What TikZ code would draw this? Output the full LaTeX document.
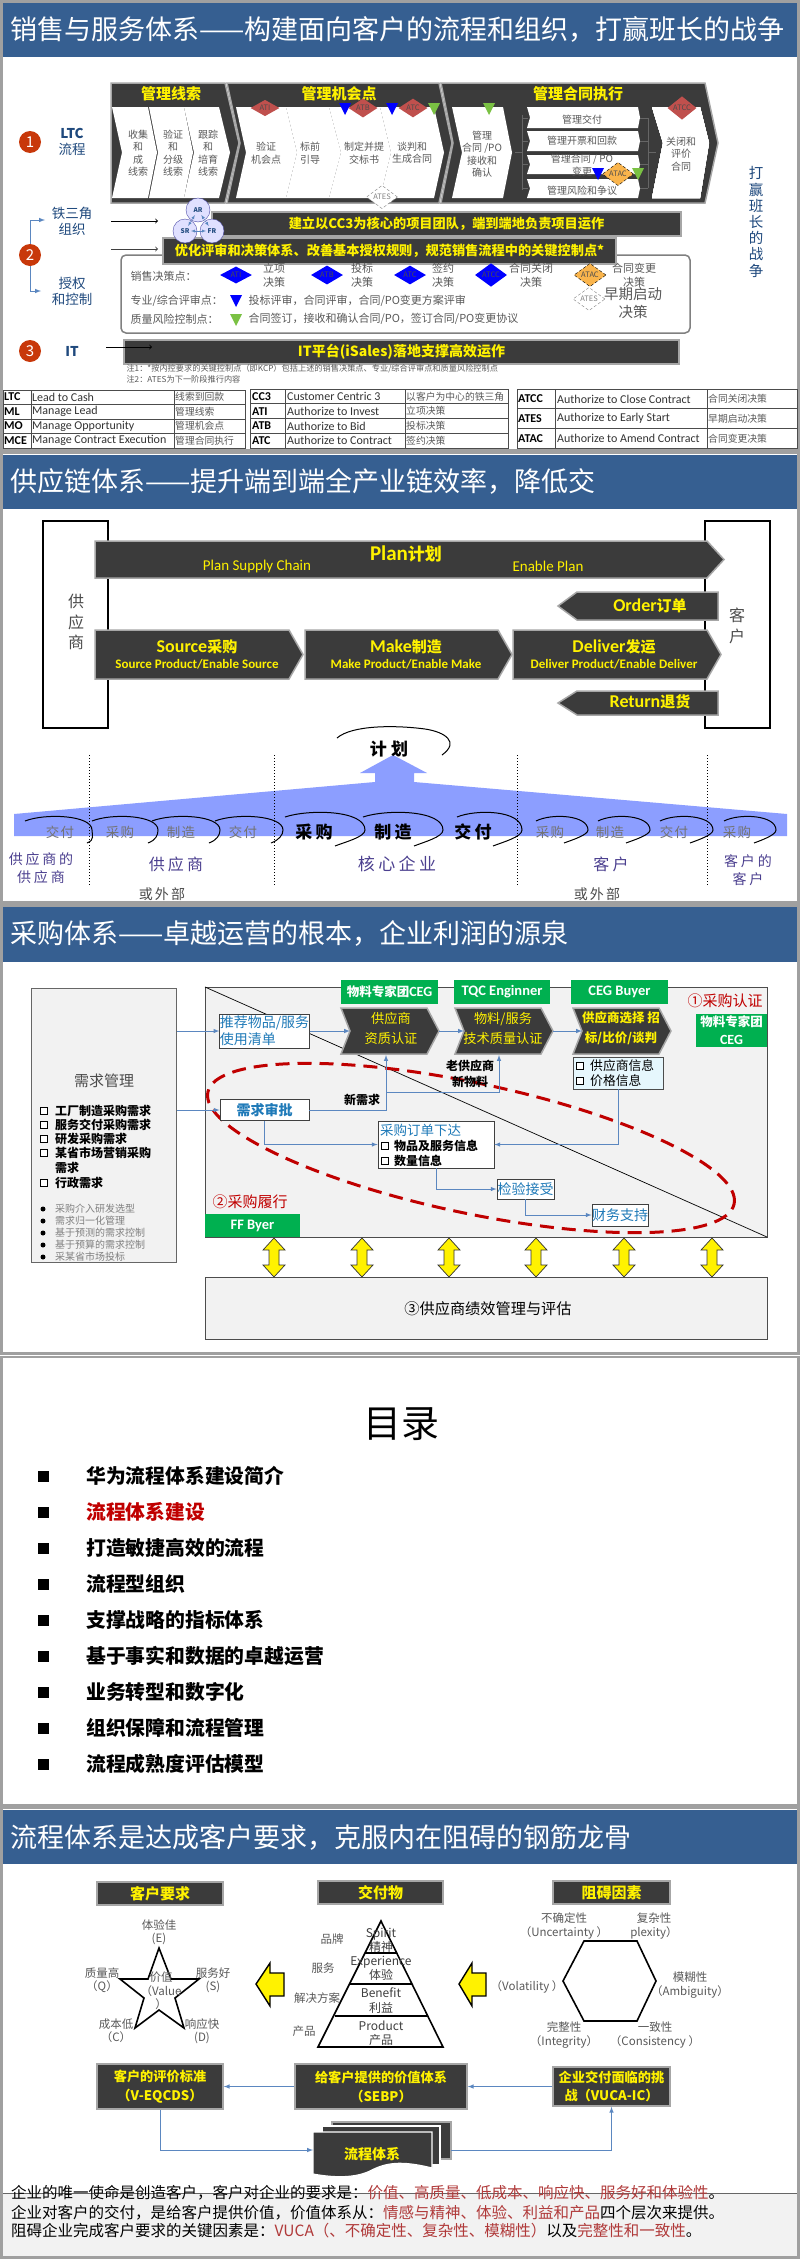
\documentclass[tikz,border=0pt]{standalone}
\usepackage{fontspec}
\setmainfont{Noto Sans CJK SC}
\newfontfamily\latf{Carlito}
\usetikzlibrary{shapes.geometric}

\definecolor{titleblue}{HTML}{365F91}
\definecolor{framegray}{HTML}{A0A0A0}
\definecolor{darkfill}{HTML}{3B3B3B}
\definecolor{boxrim}{HTML}{A6A6A6}
\definecolor{wordgray}{HTML}{595959}
\definecolor{navyword}{HTML}{1F497D}
\definecolor{linkblue}{HTML}{5B87C0}
\definecolor{flowblue}{HTML}{8C9EFF}
\definecolor{paleface}{HTML}{F2F2F2}
\definecolor{deepred}{HTML}{C00000}
\definecolor{ringred}{HTML}{C8380A}
\definecolor{palmgreen}{HTML}{00B050}
\definecolor{flagorange}{HTML}{F9B44C}
\definecolor{okgreen}{HTML}{7AC143}
\definecolor{purpleword}{HTML}{4B3F8F}
\definecolor{textblue}{HTML}{1F7AB8}
\definecolor{tipred}{HTML}{C0504D}
\definecolor{billred}{HTML}{B03A3A}

\newcommand{\fsz}[2]{\fontsize{#1}{#2}\selectfont}
\newcommand{\chevpoly}[7][]{\draw[#1] (#2,#6) -- (#4,#6) -- (#5,{(#6+#7)/2}) -- (#4,#7) -- (#2,#7) -- (#3,{(#6+#7)/2}) -- cycle;}
\newcommand{\marktri}[3]{\fill[#1] ({#2-6},#3) -- ({#2+6},#3) -- (#2,{#3+12}) -- cycle;}

\tikzset{
	slideframe/.style={draw=framegray, line width=2.5pt},
	titletext/.style={anchor=west, text=white, font=\fsz{27}{30}},
	darkshape/.style={fill=darkfill, draw=boxrim, line width=1.5pt},
	whiteshape/.style={fill=white, draw=none},
	darkbox/.style={darkshape, text=yellow, font=\bfseries\fsz{13.2}{16}, inner sep=0pt},
	yellowtext/.style={text=yellow, font=\bfseries\fsz{15}{18}, align=center},
	steptext/.style={text=wordgray, font=\fsz{10}{12.4}, align=center},
	numring/.style={circle, fill=ringred, text=white, font=\fsz{15}{15}, inner sep=0pt, minimum size=22pt},
	leftlabel/.style={text=navyword, font=\fsz{13.5}{16}, align=center},
	gateflag/.style={diamond, inner sep=0pt, minimum width=29pt, minimum height=15pt, font=\fsz{7.5}{8}},
	redflag/.style={gateflag, fill=tipred, text=black!70},
	blueflag/.style={gateflag, fill=blue, text=black!70, minimum width=32pt, minimum height=17pt},
	orangeflag/.style={gateflag, fill=flagorange, draw=black, densely dashed, line width=.4pt, text=black!70},
	greyflag/.style={gateflag, fill=white, draw=gray, densely dashed, line width=.4pt, text=gray},
	legendtext/.style={text=wordgray, font=\fsz{11}{14}, align=center},
	noteword/.style={anchor=west, text=wordgray, font=\fsz{8.2}{10}},
	rowhead/.style={anchor=west, inner sep=0pt, font=\latf\bfseries\fsz{12}{13}},
	rowword/.style={anchor=west, inner sep=0pt, text=black!80, font=\latf\fsz{12}{13}},
	rowcn/.style={anchor=west, inner sep=0pt, text=wordgray, font=\fsz{9.8}{12}},
	boldword/.style={text=yellow, font=\bfseries\fsz{15}{18}},
	subword/.style={text=yellow, font=\latf\bfseries\fsz{13}{14}},
	planword/.style={text=yellow, font=\latf\fsz{15}{16}},
	arcline/.style={line width=1pt, black},
	grayflow/.style={text=black!55, font=\fsz{13.5}{16}\addfontfeature{LetterSpace=10}},
	bigflow/.style={text=black, font=\bfseries\fsz{17}{18}\addfontfeature{LetterSpace=20}},
	purpleflow/.style={text=purpleword, align=center, font=\fsz{#1}{18}\addfontfeature{LetterSpace=20}},
	palmbox/.style={fill=palmgreen, text=white, font=\bfseries\fsz{12.5}{18}, align=center, inner sep=0pt},
	paperbox/.style={fill=white, draw=black!75, line width=.8pt, inner sep=0pt, text=textblue, font=\fsz{14}{17}},
	chkbox/.style={draw=black, fill=white, line width=1.1pt, inner sep=0pt, minimum size=7pt},
	chkword/.style={anchor=west, inner sep=0pt, font=\bfseries\fsz{12}{14}},
	linkline/.style={->, >=latex, draw=linkblue, line width=1pt},
	shapeline/.style={draw=black, line width=1.6pt},
	smallword/.style={text=wordgray, font=\fsz{11.5}{13.4}, align=center},
	arrowyellow/.style={fill=yellow, draw=black, line width=1.4pt},
	tocmark/.style={fill=black, inner sep=0pt, minimum size=11pt},
}

\begin{document}
\begin{tikzpicture}[x=1pt, y=-1pt]
	\useasboundingbox (0,0) rectangle (800,2259);
	\fill[white] (0,0) rectangle (800,2259);

	% slide frames
	\draw[slideframe] (1.5,1.5) rectangle (798.5,450.5);
	\draw[slideframe] (1.5,452.5) rectangle (798.5,902.5);
	\draw[slideframe] (1.5,905.5) rectangle (798.5,1353.5);
	\draw[slideframe] (1.5,1357) rectangle (798.5,1805);
	\draw[slideframe] (1.5,1807.5) rectangle (798.5,2257.5);
	\foreach \top/\bot in {3/57, 455/509, 907/962, 1810/1864}
		\fill[titleblue] (3,\top) rectangle (797,\bot);
	\node[titletext] (titlea) at (7,29) {销售与服务体系——构建面向客户的流程和组织，打赢班长的战争};
	\node[titletext] (titleb) at (7,481) {供应链体系——提升端到端全产业链效率，降低交};
	\node[titletext] (titlec) at (7,933) {采购体系——卓越运营的根本，企业利润的源泉};
	\node[titletext] (titled) at (7,1837) {流程体系是达成客户要求，克服内在阻碍的钢筋龙骨};

	% sales: chevron band
	\draw[darkshape] (111,83) -- (225,83) -- (239,143) -- (225,203) -- (111,203) -- cycle;
	\chevpoly[darkshape]{227}{240}{439}{452}{83}{203}
	\chevpoly[darkshape]{441}{453}{705}{718}{83}{203}
	\node[yellowtext] (leadhead) at (171,94) {管理线索};
	\node[yellowtext] (opphead) at (339,94) {管理机会点};
	\node[yellowtext] (conthead) at (578,94) {管理合同执行};
	\foreach \l/\n/\r/\t in {112/122/148/157, 149/158/184/193, 184/194/219/230, 236/246/286/297, 286/297/329/341, 329/341/380/391, 380/391/434/444, 452/462/503/512}
		\chevpoly[whiteshape]{\l}{\n}{\r}{\t}{107}{198}
	\fill[white] (652,107) -- (700,107) -- (709,143) -- (700,198) -- (652,198) -- (663,143) -- cycle;
	\draw[black!60, line width=1pt] (515,152) -- (522,152) (522,115) -- (522,190) (522,118) -- (528,118) (522,141) -- (528,141) (522,164) -- (528,164) (522,188) -- (528,188);
	\draw[black!60, line width=1pt] (638,118) -- (648,118) (638,141) -- (648,141) (638,164) -- (648,164) (638,188) -- (648,188) (648,118) -- (648,188) (648,152) -- (656,152);
	\foreach \top/\bot in {107/128, 131/151, 155/174, 179/198}
		\fill[white] (527,\top) -- (638,\top) -- (640,{(\top+\bot)/2}) -- (638,\bot) -- (527,\bot) -- (530,{(\top+\bot)/2}) -- cycle;
	\node[steptext] (stepa) at (138,153) {收集\\和\\成\\线索};
	\node[steptext] (stepb) at (173,153) {验证\\和\\分级\\线索};
	\node[steptext] (stepc) at (208,153) {跟踪\\和\\培育\\线索};
	\node[steptext] (stepd) at (266,153) {验证\\机会点};
	\node[steptext] (stepe) at (310,153) {标前\\引导};
	\node[steptext] (stepf) at (364,153) {制定并提\\交标书};
	\node[steptext] (stepg) at (412,153) {谈判和\\生成合同};
	\node[steptext] (steph) at (482,154) {管理\\合同 /PO\\接收和\\确认};
	\node[steptext] (rowa) at (582,120) {管理交付};
	\node[steptext] (rowb) at (582,141) {管理开票和回款};
	\node[steptext] (rowc) at (582,165) {管理合同 / PO\\变更};
	\node[steptext] (rowd) at (582,191) {管理风险和争议};
	\node[steptext] (stepi) at (681,154) {关闭和\\评价\\合同};
	\node[redflag] (flagati) at (265,108) {ATI};
	\node[redflag] (flagatb) at (363,108) {ATB};
	\node[redflag] (flagatc) at (413,108) {ATC};
	\node[redflag] (flagatcc) at (682,108) {ATCC};
	\node[greyflag, minimum width=31pt] (flagates) at (382,197) {ATES};
	\node[orangeflag, minimum width=31pt, minimum height=17pt] (flagatac) at (618,174) {ATAC};
	\marktri{blue}{345}{103}
	\marktri{blue}{392}{103}
	\marktri{okgreen}{434}{103}
	\marktri{okgreen}{489}{103}
	\marktri{blue}{598}{168}
	\marktri{okgreen}{638}{168}

	% sales: left column
	\node[numring] (numa) at (30,142) {1};
	\node[numring] (numb) at (30,255) {2};
	\node[numring] (numc) at (30,351) {3};
	\node[leftlabel] (labelltc) at (72,142) {\textbf{LTC}\\流程};
	\node[leftlabel] (labeltri) at (72,221) {铁三角\\组织};
	\node[leftlabel] (labelauth) at (72,291) {授权\\和控制};
	\node[leftlabel] (labelit) at (72,351) {\textbf{IT}};
	\coordinate (triin) at (45,220);
	\coordinate (authin) at (41,291);
	\draw[linkline] (numb.north) |- (triin);
	\draw[linkline] (numb.south) |- (authin);

	% sales: bars and legend
	\node[darkbox, minimum width=469pt, minimum height=24pt] (barcc) at (446.5,224) {建立以CC3为核心的项目团队，端到端地负责项目运作};
	\draw[draw=black!50, fill=white, line width=1.5pt, rounded corners=5pt] (121,255) rectangle (690,333);
	\node[darkbox, minimum width=453pt, minimum height=26pt] (barkcp) at (389.5,251) {优化评审和决策体系、改善基本授权规则，规范销售流程中的关键控制点*};
	\node[circle, fill=blue!12, draw=blue!50!black!70, inner sep=0pt, minimum size=24pt, text=navyword, font=\bfseries\fsz{6.5}{7}] (ringar) at (198,210) {AR};
	\node[circle, fill=blue!12, draw=blue!50!black!70, inner sep=0pt, minimum size=24pt, text=navyword, font=\bfseries\fsz{6.5}{7}] (ringsr) at (185,231) {SR};
	\node[circle, fill=blue!12, draw=blue!50!black!70, inner sep=0pt, minimum size=24pt, text=navyword, font=\bfseries\fsz{6.5}{7}] (ringfr) at (212,231) {FR};
	\draw[<->, >=latex, draw=linkblue, shorten <=6pt, shorten >=6pt] (ringsr.center) -- (ringfr.center);
	\draw[<->, >=latex, draw=linkblue, shorten <=6pt, shorten >=6pt] (ringar.center) -- (ringsr.center);
	\draw[<->, >=latex, draw=linkblue, shorten <=6pt, shorten >=6pt] (ringar.center) -- (ringfr.center);
	\node[darkbox, minimum width=555pt, minimum height=24pt, font=\bfseries\fsz{14}{16}] (barit) at (401.5,352) {IT平台(iSales)落地支撑高效运作};
	\coordinate (triarrow) at (111,221);
	\coordinate (kcparrow) at (111,249);
	\coordinate (itarrow) at (106,347);
	\draw[->, >=to, line width=.9pt] (triarrow) -- +(47,0);
	\draw[->, >=to, line width=.9pt, black!75] (kcparrow) -- +(47,0);
	\draw[->, >=to, line width=.9pt] (itarrow) -- +(46,0);
	\node[legendtext, anchor=west] (sellhead) at (127,276) {销售决策点：};
	\node[blueflag] (gateati) at (236,275) {ATI};
	\node[blueflag] (gateatb) at (327,275) {ATB};
	\node[blueflag] (gateatc) at (410,275) {ATC};
	\node[blueflag] (gateatcc) at (491,275) {ATCC};
	\node[orangeflag, minimum width=32pt, minimum height=18pt] (gateatac) at (590,275) {ATAC};
	\node[greyflag, minimum width=32pt, minimum height=17pt] (gateates) at (589,299) {ATES};
	\node[legendtext] (wordati) at (274,275) {立项\\决策};
	\node[legendtext] (wordatb) at (362,275) {投标\\决策};
	\node[legendtext] (wordatc) at (443,275) {签约\\决策};
	\node[legendtext] (wordatcc) at (531,275) {合同关闭\\决策};
	\node[legendtext] (wordatac) at (634,275) {合同变更\\决策};
	\node[legendtext, font=\fsz{14.5}{18}] (wordates) at (633,303) {早期启动\\决策};
	\node[legendtext, anchor=west] (prohead) at (127,301) {专业/综合评审点：};
	\marktri{blue}{236}{295}
	\node[legendtext, anchor=west] (proword) at (245,301) {投标评审，合同评审，合同/PO变更方案评审};
	\node[legendtext, anchor=west] (qualhead) at (127,319) {质量风险控制点：};
	\marktri{okgreen}{236}{314}
	\node[legendtext, anchor=west] (qualword) at (245,319) {合同签订，接收和确认合同/PO，签订合同/PO变更协议};
	\node[noteword] (notea) at (123,369) {注1：*按内控要求的关键控制点（即KCP）包括上述的销售决策点、专业/综合评审点和质量风险控制点};
	\node[noteword] (noteb) at (123,379) {注2：ATES为下一阶段推行内容};
	\node[text=navyword, align=center, font=\fsz{14.5}{16.2}] (winword) at (756,222) {打\\赢\\班\\长\\的\\战\\争};

	% sales: glossary tables
	\draw[black!70, line width=.7pt] (3,390) rectangle (245,448) (31,390) -- (31,448) (174,390) -- (174,448) (3,404.5) -- (245,404.5) (3,419) -- (245,419) (3,433.5) -- (245,433.5);
	\draw[black!70, line width=.7pt] (250,389) rectangle (508,448) (285,389) -- (285,448) (405,389) -- (405,448) (250,403.7) -- (508,403.7) (250,418.5) -- (508,418.5) (250,433.2) -- (508,433.2);
	\draw[black!70, line width=.7pt] (517,389) rectangle (797,448) (555,389) -- (555,448) (707,389) -- (707,448) (517,408.7) -- (797,408.7) (517,428.3) -- (797,428.3);
	\foreach \i/\ab/\en/\cn in {0/LTC/Lead to Cash/线索到回款, 1/ML/Manage Lead/管理线索, 2/MO/Manage Opportunity/管理机会点, 3/MCE/Manage Contract Execution/管理合同执行} {
		\node[rowhead] (taba\i) at (4,{397+14.5*\i}) {\ab};
		\node[rowword] (tabb\i) at (32,{397+14.5*\i}) {\en};
		\node[rowcn] (tabc\i) at (175,{397+14.5*\i}) {\cn};
	}
	\foreach \i/\ab/\en/\cn in {0/CC3/Customer Centric 3/以客户为中心的铁三角, 1/ATI/Authorize to Invest/立项决策, 2/ATB/Authorize to Bid/投标决策, 3/ATC/Authorize to Contract/签约决策} {
		\node[rowhead] (tabd\i) at (252,{396.4+14.75*\i}) {\ab};
		\node[rowword] (tabe\i) at (287,{396.4+14.75*\i}) {\en};
		\node[rowcn] (tabf\i) at (406,{396.4+14.75*\i}) {\cn};
	}
	\foreach \i/\ab/\en/\cn in {0/ATCC/Authorize to Close Contract/合同关闭决策, 1/ATES/Authorize to Early Start/早期启动决策, 2/ATAC/Authorize to Amend Contract/合同变更决策} {
		\node[rowhead] (tabg\i) at (518,{399+19.7*\i}) {\ab};
		\node[rowword] (tabh\i) at (557,{399+19.7*\i}) {\en};
		\node[rowcn] (tabi\i) at (708,{399+19.7*\i}) {\cn};
	}

	% supply chain
	\draw[black, line width=1.5pt] (43,521) rectangle (108,728);
	\draw[black, line width=1.5pt] (705,521) rectangle (770,728);
	\node[text=black!70, align=center, font=\fsz{16}{20.5}] (sidesup) at (76,622) {供\\应\\商};
	\node[text=black!70, align=center, font=\fsz{16}{20.5}] (sidecust) at (737,626) {客\\户};
	\draw[darkshape] (95,541) -- (707,541) -- (724,559.5) -- (707,578) -- (95,578) -- cycle;
	\node[boldword, font=\bfseries\fsz{17}{20}] (planhead) at (406,554) {{\latf\fontsize{21}{20}\selectfont Plan}计划};
	\node[planword] (plansub) at (257,566) {Plan Supply Chain};
	\node[planword] (enablesub) at (548,566) {Enable Plan};
	\draw[darkshape] (718,592) -- (577,592) -- (558,606) -- (577,620) -- (718,620) -- cycle;
	\node[boldword] (orderword) at (650,606) {{\latf\fontsize{18}{18}\selectfont Order}订单};
	\draw[darkshape] (718,691) -- (577,691) -- (558,703) -- (577,715) -- (718,715) -- cycle;
	\node[boldword] (returnword) at (650,702) {{\latf\fontsize{18}{18}\selectfont Return}退货};
	\draw[darkshape] (95,630) -- (289,630) -- (303,654.5) -- (289,679) -- (95,679) -- cycle;
	\draw[darkshape] (305,630) -- (498,630) -- (512,654.5) -- (498,679) -- (305,679) -- cycle;
	\draw[darkshape] (513,630) -- (707,630) -- (721,654.5) -- (707,679) -- (513,679) -- cycle;
	\foreach \x/\nm/\main/\cn in {197/src/Source/采购, 406/mak/Make/制造, 614/del/Deliver/发运} {
		\node[boldword] (head\nm) at (\x,647) {{\latf\fontsize{18}{18}\selectfont \main}\cn};
	}
	\node[subword] (subsrc) at (197,664) {Source Product/Enable Source};
	\node[subword] (submak) at (406,664) {Make Product/Enable Make};
	\node[subword] (subdel) at (614,664) {Deliver Product/Enable Deliver};

	% supply chain: plan fan
	\fill[flowblue] (14,836) -- (14,814) -- (375,782) -- (375,773) -- (360,773) -- (393,755) -- (427,773) -- (414,773) -- (414,782) -- (787,814) -- (787,836) -- cycle;
	\foreach \x in {89,274,517,707}
		\draw[black, dotted, line width=1pt] (\x,755) -- (\x,885);
	\draw[arcline] (337,738) .. controls (352,725) and (395,725) .. (425,729) .. controls (445,732) and (460,742) .. (442,755);
	\node[text=black, font=\bfseries\fsz{17}{18}\addfontfeature{LetterSpace=25}] (planhub) at (389,749) {计划};
	\foreach \i/\lab/\tx/\xs/\xr/\xe in {0/交付/60/25/92/87, 1/采购/120/92/158/148, 2/制造/181/152/220/209, 3/交付/243/215/283/271, 4/采购/550/536/588/564, 5/制造/610/598/650/626, 6/交付/674/660/713/690, 7/采购/737/724/776/754} {
		\draw[arcline] (\xs,821) .. controls ({\xs+0.3*(\xr-\xs)},813) and (\xr,815) .. (\xr,830) .. controls (\xr,835) and ({\xe+8},840) .. (\xe,843);
		\node[grayflow] (smallflow\i) at (\tx,832) {\lab};
	}
	\foreach \i/\lab/\tx/\xs/\xr/\xe in {0/采购/314/285/365/335, 1/制造/393/363/443/414, 2/交付/473/457/522/493} {
		\draw[arcline] (\xs,817) .. controls ({\xs+0.3*(\xr-\xs)},809) and (\xr,810) .. (\xr,830) .. controls (\xr,837) and ({\xe+10},842) .. (\xe,846);
		\node[bigflow] (bigflow\i) at (\tx,832) {\lab};
	}
	\node[purpleflow=14] (partya) at (41,868) {供应商的\\供应商};
	\node[purpleflow=16] (partyb) at (176,864) {供应商};
	\node[purpleflow=17] (partyc) at (397,864) {核心企业};
	\node[purpleflow=16] (partyd) at (611,864) {客户};
	\node[purpleflow=14] (partye) at (748,870) {客户的\\客户};
	\node[text=black!70, font=\fsz{14}{16}\addfontfeature{LetterSpace=15}] (outera) at (162,894) {或外部};
	\node[text=black!70, font=\fsz{14}{16}\addfontfeature{LetterSpace=15}] (outerb) at (597,894) {或外部};

	% purchasing
	\node[fill=paleface, draw=black!60, line width=1pt, minimum width=145pt, minimum height=274pt, inner sep=0pt] (needbox) at (103.5,1125) {};
	\node[text=black!70, font=\fsz{15}{18}] (needhead) at (104,1081) {需求管理};
	\foreach \i/\y/\t in {0/1111/工厂制造采购需求, 1/1125/服务交付采购需求, 2/1139/研发采购需求, 3/1153/某省市场营销采购, 5/1183/行政需求} {
		\node[chkbox] (needchk\i) at (44,\y) {};
		\node[chkword] (needline\i) at (55,\y) {\t};
	}
	\node[chkword] (needline4) at (55,1168) {需求};
	\foreach \i/\y/\t in {0/1209/采购介入研发选型, 1/1221/需求归一化管理, 2/1233/基于预测的需求控制, 3/1245/基于预算的需求控制, 4/1257/采某省市场投标} {
		\fill[black] (43,\y) circle (2.5pt);
		\node[anchor=west, inner sep=0pt, text=gray, font=\fsz{10}{12}] (needsub\i) at (55,\y) {\t};
	}
	\draw[fill=paleface, draw=black!70, line width=1pt] (205,987) rectangle (767,1237);
	\draw[black, line width=.7pt] (205,987) -- (767,1237);
	\draw[deepred, line width=3pt, dash pattern=on 14pt off 8pt] (471,1148) ellipse [x radius=269pt, y radius=65pt, rotate=-12];
	\node[palmbox] at (389.5,992) [minimum width=97pt, minimum height=24pt] (greena) {物料专家团{\latf\fontsize{14}{14}\selectfont CEG}};
	\node[palmbox, minimum width=96pt, minimum height=24pt, font=\latf\bfseries\fsz{14.5}{18}] (greenb) at (502,992) {TQC Enginner};
	\node[palmbox, minimum width=97pt, minimum height=24pt, font=\latf\bfseries\fsz{14.5}{18}] (greenc) at (619.5,992) {CEG Buyer};
	\node[palmbox, minimum width=71pt, minimum height=33pt] (greend) at (731.5,1030.5) {物料专家团\\{\latf\fontsize{14}{14}\selectfont CEG}};
	\node[palmbox, minimum width=95pt, minimum height=23pt, font=\latf\bfseries\fsz{14.5}{18}] (greene) at (252.5,1225.5) {FF Byer};
	\node[text=deepred, font=\fsz{15}{18}] (stepone) at (725,1001) {①采购认证};
	\node[text=deepred, font=\fsz{15}{18}] (steptwo) at (250,1202) {②采购履行};
	\chevpoly[darkshape]{341}{350}{427}{439}{1008}{1054}
	\chevpoly[darkshape]{455}{464}{541}{553}{1008}{1054}
	\chevpoly[darkshape]{573}{582}{659}{671}{1008}{1054}
	\node[text=yellow, align=center, font=\fsz{13.2}{20}] (qualsup) at (391,1028) {供应商\\资质认证};
	\node[text=yellow, align=center, font=\fsz{13.2}{20}] (qualtech) at (503,1028) {物料/服务\\技术质量认证};
	\node[text=yellow, align=center, font=\bfseries\fsz{12.5}{20}] (qualbid) at (621,1028) {供应商选择 招\\标/比价/谈判};
	\coordinate (qualsupin) at (350,1031);
	\coordinate (qualsupout) at (439,1031);
	\coordinate (qualtechin) at (464,1031);
	\coordinate (qualtechout) at (553,1031);
	\coordinate (qualbidin) at (582,1031);
	\coordinate (qualsuplow) at (386,1055);
	\coordinate (qualtechlow) at (499,1055);
	\coordinate (newjoint) at (386,1092);
	\node[paperbox, minimum width=89pt, minimum height=34pt, align=left] (listbox) at (264.5,1031) {推荐物品/服务\\使用清单};
	\node[paperbox, minimum width=89pt, minimum height=21pt, font=\bfseries\fsz{14}{17}] (approvebox) at (264.5,1110) {需求审批};
	\node[fill=cyan!10, draw=black!70, line width=.8pt, minimum width=90pt, minimum height=32pt, inner sep=0pt] (infobox) at (618,1073) {};
	\node[chkbox] (infochka) at (580,1066) {};
	\node[chkbox] (infochkb) at (580,1081) {};
	\node[chkword, font=\fsz{12.8}{14}] (infoa) at (590,1066) {供应商信息};
	\node[chkword, font=\fsz{12.8}{14}] (infob) at (590,1081) {价格信息};
	\node[paperbox, minimum width=116pt, minimum height=47pt] (orderbox) at (436,1144.5) {};
	\node[anchor=west, inner sep=0pt, text=textblue, font=\fsz{13.5}{16}] (orderhead) at (380,1130) {采购订单下达};
	\node[chkbox] (orderchka) at (385,1146) {};
	\node[chkbox] (orderchkb) at (385,1161) {};
	\node[chkword] (ordera) at (394,1146) {物品及服务信息};
	\node[chkword] (orderb) at (394,1161) {数量信息};
	\node[paperbox, minimum width=57pt, minimum height=20pt] (checkbox) at (525.5,1189) {检验接受};
	\node[paperbox, minimum width=56pt, minimum height=22pt] (financebox) at (620,1215) {财务支持};
	\node[text=black, font=\bfseries\fsz{12}{14}] (newneed) at (362,1100) {新需求};
	\node[text=black, align=center, font=\bfseries\fsz{12}{16}] (oldsup) at (470,1074) {老供应商\\新物料};
	\draw[linkline] (needbox.east |- listbox.west) -- (listbox.west);
	\draw[linkline] (listbox.east) -- (qualsupin);
	\draw[linkline] (qualsupout) -- (qualtechin);
	\draw[linkline] (qualtechout) -- (qualbidin);
	\draw[linkline] (needbox.east |- approvebox.west) -- (approvebox.west);
	\draw[linkline] (approvebox.east) -| (qualsuplow);
	\draw[linkline] (newjoint) -| (qualtechlow);
	\draw[linkline] (approvebox.south) |- (orderbox.west);
	\draw[linkline] (infobox.south) |- (orderbox.east);
	\draw[linkline] (orderbox.south) |- (checkbox.west);
	\draw[linkline] (checkbox.south) |- (financebox.west);
	\foreach \x in {274,362,449,536,624,712}
		\draw[fill=yellow, draw=black!80, line width=.7pt] (\x,1238) -- ({\x+11},1250) -- ({\x+5},1250) -- ({\x+5},1265) -- ({\x+11},1265) -- (\x,1277) -- ({\x-11},1265) -- ({\x-5},1265) -- ({\x-5},1250) -- ({\x-11},1250) -- cycle;
	\node[fill=paleface, draw=black!70, line width=1pt, minimum width=562pt, minimum height=62pt, font=\fsz{15.2}{18}] (ratebox) at (486,1308) {};
	\node[font=\fsz{15.2}{18}] (rateword) at (488,1309) {③供应商绩效管理与评估};

	% contents
	\node[font=\fsz{38}{40}] (tochead) at (401,1424) {目录};
	\foreach \i/\y/\t/\c in {0/1476/华为流程体系建设简介/black, 1/1512/流程体系建设/deepred, 2/1548/打造敏捷高效的流程/black, 3/1584/流程型组织/black, 4/1620/支撑战略的指标体系/black, 5/1656/基于事实和数据的卓越运营/black, 6/1692/业务转型和数字化/black, 7/1728/组织保障和流程管理/black, 8/1764/流程成熟度评估模型/black} {
		\node[tocmark] (tocdot\i) at (43,\y) {};
		\node[anchor=west, inner sep=0pt, text=\c, font=\bfseries\fsz{19.8}{22}] (tocline\i) at (86,\y) {\t};
	}

	% process system: headers
	\node[darkbox, minimum width=126pt, minimum height=23pt, font=\bfseries\fsz{15}{18}] (heada) at (160,1893.5) {客户要求};
	\node[darkbox, minimum width=125pt, minimum height=23pt, font=\bfseries\fsz{15}{18}] (headb) at (380.5,1892.5) {交付物};
	\node[darkbox, minimum width=117pt, minimum height=23pt, font=\bfseries\fsz{15}{18}] (headc) at (611.5,1892.5) {阻碍因素};

	% process system: star
	\draw[shapeline] (159,1948) -- (171,1979) -- (199,1979) -- (175,1998) -- (184,2028) -- (159,2010) -- (135,2028) -- (144,1998) -- (120,1979) -- (148,1979) -- cycle;
	\node[smallword] (starmid) at (161,1991) {价值\\（Value\\）};
	\node[smallword] (stare) at (159,1932) {体验佳\\(E)};
	\node[smallword] (starq) at (102,1980) {质量高\\（Q）};
	\node[smallword] (stars) at (213,1980) {服务好\\(S)};
	\node[smallword] (starc) at (116,2031) {成本低\\（C）};
	\node[smallword] (stard) at (202,2031) {响应快\\(D)};
	\draw[arrowyellow] (256,1984) -- (270,1963) -- (270,1973) -- (284,1973) -- (284,1996) -- (270,1996) -- (270,2006) -- cycle;
	\draw[arrowyellow] (459,1984) -- (472,1963) -- (472,1973) -- (486,1973) -- (486,1996) -- (472,1996) -- (472,2006) -- cycle;

	% process system: pyramid
	\draw[shapeline] (381,1921) -- (443,2047) -- (318,2047) -- cycle (365,1953) -- (397,1953) (350,1984) -- (412,1984) (335,2016) -- (427,2016);
	\node[smallword, text=black!75, font=\fsz{12}{14}] (pyra) at (381,1940) {Spirit\\精神};
	\node[smallword, text=black!75, font=\fsz{12}{14}] (pyrb) at (381,1968) {Experience\\体验};
	\node[smallword, text=black!75, font=\fsz{12}{15}] (pyrc) at (381,2001) {Benefit\\利益};
	\node[smallword, text=black!75, font=\fsz{12}{14}] (pyrd) at (381,2033) {Product\\产品};
	\node[smallword] (tierbrand) at (332,1939) {品牌};
	\node[smallword] (tierserv) at (323,1968) {服务};
	\node[smallword] (tiersol) at (317,1998) {解决方案};
	\node[smallword] (tierprod) at (304,2031) {产品};

	% process system: hexagon
	\draw[shapeline] (584,1941) -- (637,1941) -- (656,1981) -- (637,2021) -- (584,2021) -- (563,1981) -- cycle;
	\node[smallword] (hexu) at (564,1926) {不确定性\\（Uncertainty ）};
	\node[smallword] (hexc) at (654,1926) {复杂性\\plexity）};
	\node[smallword] (hexv) at (527,1987) {（Volatility ）};
	\node[smallword] (hexa) at (690,1985) {模糊性\\（Ambiguity）};
	\node[smallword] (hexi) at (564,2035) {完整性\\（Integrity）};
	\node[smallword] (hexs) at (655,2035) {一致性\\（Consistency ）};

	% process system: lower loop
	\node[darkbox, minimum width=126pt, minimum height=45pt, align=center, font=\bfseries\fsz{13.2}{19}] (boxeval) at (160,2086.5) {客户的评价标准\\（V-EQCDS）};
	\node[darkbox, minimum width=172pt, minimum height=45pt, align=center, font=\bfseries\fsz{13.2}{19}] (boxvalue) at (381,2086.5) {给客户提供的价值体系\\（SEBP）};
	\node[darkbox, minimum width=117pt, minimum height=39pt, align=center, font=\bfseries\fsz{13.2}{18}] (boxvuca) at (611.5,2086.5) {企业交付面临的挑\\战（VUCA-IC）};
	\fill[darkfill, draw=boxrim, line width=1.5pt] (332,2122) rectangle (451,2159);
	\fill[darkfill, draw=white, line width=1.2pt] (322,2126) rectangle (440,2165);
	\draw[darkshape, draw=white, line width=1.2pt] (313,2132) -- (432,2132) -- (432,2168) .. controls (400,2160) and (385,2163) .. (370,2171) .. controls (355,2178) and (335,2178) .. (313,2174) -- cycle;
	\node[text=yellow, font=\bfseries\fsz{14}{16}] (boxproc) at (372,2154) {流程体系};
	\coordinate (procin) at (313,2150);
	\coordinate (procout) at (451,2150);
	\draw[linkline] (boxvalue.west) -- (boxeval.east);
	\draw[linkline] (boxvuca.west) -- (boxvalue.east);
	\draw[linkline] (boxeval.south) |- (procin);
	\draw[linkline] (procout) -| (boxvuca.south);

	% process system: closing text
	\fill[paleface] (3,2193) rectangle (797,2256);
	\draw[black!60, line width=1pt] (3,2193) -- (797,2193);
	\node[anchor=west, inner sep=0pt, font=\fsz{15.5}{18}] (closea) at (11,2193) {企业的唯一使命是创造客户，客户对企业的要求是：\textcolor{billred}{价值、高质量、低成本、响应快、服务好和体验性}。};
	\node[anchor=west, inner sep=0pt, font=\fsz{15.5}{18}] (closeb) at (11,2213) {企业对客户的交付，是给客户提供价值，价值体系从：\textcolor{billred}{情感与精神、体验、利益和产品}四个层次来提供。};
	\node[anchor=west, inner sep=0pt, font=\fsz{15.5}{18}] (closec) at (11,2231) {阻碍企业完成客户要求的关键因素是：\textcolor{billred}{VUCA（、不确定性、复杂性、模糊性）}以及\textcolor{billred}{完整性和一致性}。};
\end{tikzpicture}
\end{document}
